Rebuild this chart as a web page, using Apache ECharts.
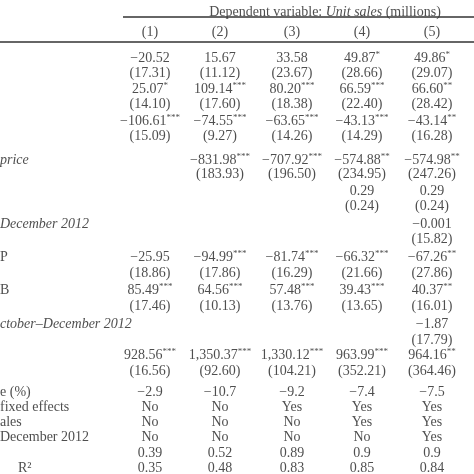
<!DOCTYPE html>
<html><head><meta charset="utf-8">
<script src="https://cdn.jsdelivr.net/npm/echarts@6/dist/echarts.min.js"></script>
<style>html,body{margin:0;padding:0;background:#fff}#c{width:474px;height:474px}</style>
</head><body><div id="c"></div>
<script>
const columns = ['(1)','(2)','(3)','(4)','(5)'];
const rowLabels = ['','','','','','','price','','','','December 2012','','P','','B','','ctober\u2013December 2012','','','','e (%)','fixed effects','ales','December 2012','','R\u00b2'];
const italicRows = [6,10,16];
const col1 = ['\u221220.52','(17.31)','25.07*','(14.10)','\u2212106.61***','(15.09)','','','','','','','\u221225.95','(18.86)','85.49***','(17.46)','','','928.56***','(16.56)','\u22122.9','No','No','No','0.39','0.35'];
const col2 = ['15.67','(11.12)','109.14***','(17.60)','\u221274.55***','(9.27)','\u2212831.98***','(183.93)','','','','','\u221294.99***','(17.86)','64.56***','(10.13)','','','1,350.37***','(92.60)','\u221210.7','No','No','No','0.52','0.48'];
const col3 = ['33.58','(23.67)','80.20***','(18.38)','\u221263.65***','(14.26)','\u2212707.92***','(196.50)','','','','','\u221281.74***','(16.29)','57.48***','(13.76)','','','1,330.12***','(104.21)','\u22129.2','Yes','No','No','0.89','0.83'];
const col4 = ['49.87*','(28.66)','66.59***','(22.40)','\u221243.13***','(14.29)','\u2212574.88**','(234.95)','0.29','(0.24)','','','\u221266.32***','(21.66)','39.43***','(13.65)','','','963.99***','(352.21)','\u22127.4','Yes','Yes','No','0.9','0.85'];
const col5 = ['49.86*','(29.07)','66.60**','(28.42)','\u221243.14**','(16.28)','\u2212574.98**','(247.26)','0.29','(0.24)','\u22120.001','(15.82)','\u221267.26**','(27.86)','40.37**','(16.01)','\u22121.87','(17.79)','964.16**','(364.46)','\u22127.5','Yes','Yes','Yes','0.9','0.84'];
const valueCols = [col1,col2,col3,col4,col5];
const headerText = 'Dependent variable: ';

// layout
const colX = [150,220,292,362,432];
const rowY = [58,73,89,104,121,136,160,174,191,206,224,239,257,273,290,306,324,340,355,371,392,407,422,437,453,468];
const font = '"Liberation Serif","DejaVu Serif",serif';
const FS = 14;
const rich = {
  s:{fontFamily:font,fontSize:9,color:'#222',verticalAlign:'top',padding:[0,0,6,0]},
  i:{fontStyle:'italic',fontFamily:font,fontSize:FS,color:'#222'}
};
function fmt(t){ const m=t.match(/^(.*?)(\*+)$/); return m? m[1]+'{s|'+m[2]+'}' : t; }

const cells = [];
valueCols.forEach((col,ci)=>col.forEach((t,ri)=>{ if(t) cells.push({value:[colX[ci],rowY[ri]],txt:t}); }));
columns.forEach((c,ci)=>cells.push({value:[colX[ci],32],txt:c}));
const labels = [];
rowLabels.forEach((t,ri)=>{ if(t) labels.push({value:[ri===25?18:0,rowY[ri]],txt:t,it:italicRows.includes(ri)}); });

const chart = echarts.init(document.getElementById('c'));
chart.setOption({
  animation:false,
  grid:{left:0,right:0,top:0,bottom:0},
  xAxis:{type:'value',min:0,max:474,show:false},
  yAxis:{type:'value',min:0,max:474,inverse:true,show:false},
  series:[
    {type:'scatter',symbolSize:0,data:cells,
     label:{show:true,position:'inside',formatter:p=>fmt(p.data.txt),rich,fontFamily:font,fontSize:FS,color:'#222'}},
    {type:'scatter',symbolSize:0,data:labels,
     label:{show:true,position:'right',distance:0,formatter:p=>p.data.it?'{i|'+p.data.txt+'}':p.data.txt,
       rich,fontFamily:font,fontSize:FS,color:'#222'}},
    {type:'scatter',symbolSize:0,data:[{value:[325,12]}],
     label:{show:true,position:'inside',formatter:headerText+'{i|Unit sales} (millions)',
       fontFamily:font,fontSize:FS,color:'#222',rich}},
    {type:'line',data:[],markLine:{silent:true,symbol:'none',label:{show:false},
      lineStyle:{color:'#333',width:1.5,type:'solid'},
      data:[[{coord:[123,17]},{coord:[474,17]}],[{coord:[0,42]},{coord:[474,42]}]]}}
  ]
});
</script></body></html>
